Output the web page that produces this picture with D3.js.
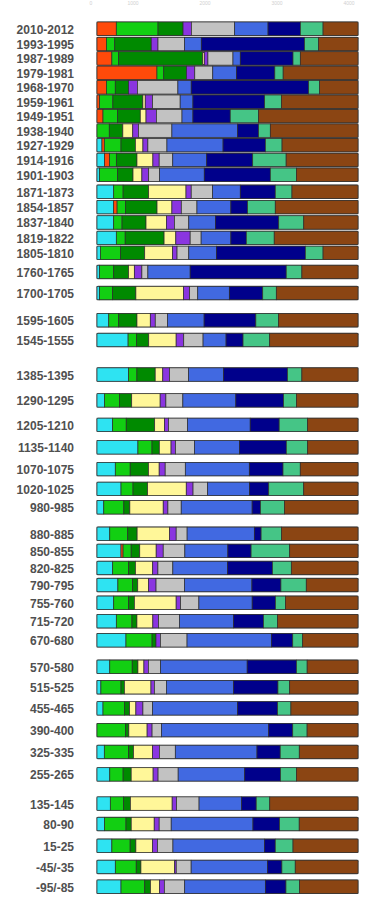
<!DOCTYPE html>
<html>
<head>
<meta charset="utf-8">
<script src="https://cdn.jsdelivr.net/npm/d3@7"></script>
<style>
  body { margin: 0; background: #fff; }
  svg { display: block; }
</style>
</head>
<body>
<div id="wrapper"></div>
<script>
// periods, top to bottom
const periods = ["2010-2012", "1993-1995", "1987-1989", "1979-1981", "1968-1970", "1959-1961",
  "1949-1951", "1938-1940", "1927-1929", "1914-1916", "1901-1903", "1871-1873", "1854-1857",
  "1837-1840", "1819-1822", "1805-1810", "1760-1765", "1700-1705", "1595-1605", "1545-1555",
  "1385-1395", "1290-1295", "1205-1210", "1135-1140", "1070-1075", "1020-1025", "980-985",
  "880-885", "850-855", "820-825", "790-795", "755-760", "715-720", "670-680", "570-580",
  "515-525", "455-465", "390-400", "325-335", "255-265", "135-145", "80-90", "15-25",
  "-45/-35", "-95/-85"]

// share of each band in every period (%)
const cyan = [0, 0, 0, 0, 0, 0, 0, 0, 1.9, 2.9, 1.0, 6.4, 6.4, 6.4, 7.4, 1.3, 1.0, 1.0, 4.5, 11.9, 12.1, 2.9, 6.0, 15.7, 7.0, 9.2, 2.6, 4.9, 9.2, 6.0, 8.0, 6.4, 7.4, 11.1, 4.9, 1.5, 2.3, 0, 2.8, 4.9, 5.1, 2.9, 5.7, 7.0, 9.2]
const red = [7.4, 3.6, 5.7, 23.0, 3.6, 1.0, 2.3, 0, 0.9, 1.9, 0, 0, 1.3, 0, 0, 0, 0, 0, 0, 0, 0, 0, 0, 0, 0, 0, 0, 0, 0.8, 0, 0, 0, 0, 0, 0, 0, 0, 0, 0, 0, 0, 0, 0, 0, 0]
const lime = [16.0, 3.2, 2.6, 2.6, 3.4, 5.1, 5.6, 4.7, 6.4, 2.6, 6.9, 3.6, 3.2, 3.2, 3.4, 7.7, 5.4, 5.0, 3.8, 3.2, 3.2, 5.7, 5.2, 5.4, 5.7, 4.6, 7.7, 6.9, 3.1, 6.1, 5.6, 5.7, 6.0, 10.0, 8.6, 7.7, 8.2, 10.9, 9.3, 5.1, 5.1, 8.2, 7.0, 8.0, 9.1]
const green = [9.6, 14.0, 32.2, 8.7, 5.1, 11.5, 8.7, 5.2, 5.5, 7.9, 5.9, 9.8, 12.1, 9.2, 14.9, 9.3, 5.7, 8.9, 7.0, 4.7, 7.0, 4.7, 10.9, 2.8, 7.0, 5.6, 2.3, 3.6, 3.3, 2.6, 2.0, 2.2, 1.9, 1.5, 2.2, 1.3, 2.0, 1.3, 1.9, 3.1, 2.6, 2.0, 2.2, 1.8, 2.2]
const yellow = [0, 0, 0.6, 0, 0, 0.9, 2.2, 3.8, 2.9, 6.1, 3.4, 14.3, 5.7, 7.8, 4.5, 10.7, 2.2, 18.3, 5.1, 10.5, 2.9, 10.9, 3.8, 4.5, 4.1, 14.8, 12.8, 12.4, 6.3, 6.6, 4.1, 16.0, 6.1, 0, 2.3, 10.2, 2.4, 7.0, 7.3, 8.4, 16.0, 8.8, 6.4, 12.9, 3.4]
const purple = [3.2, 2.6, 1.4, 3.2, 3.4, 2.8, 4.0, 2.2, 1.9, 2.4, 2.6, 2.0, 3.6, 3.1, 5.5, 1.7, 2.9, 2.3, 1.9, 2.9, 2.6, 2.2, 1.5, 1.7, 2.3, 2.6, 1.8, 2.6, 2.7, 2.0, 2.9, 1.7, 2.2, 1.7, 1.7, 1.3, 2.7, 1.9, 2.6, 1.9, 1.7, 1.9, 1.9, 0.6, 1.9]
const gray = [16.6, 10.2, 9.6, 6.9, 15.5, 10.6, 9.8, 12.8, 7.3, 5.2, 4.2, 8.2, 6.0, 5.5, 4.2, 4.5, 2.3, 3.1, 4.7, 7.4, 7.3, 6.5, 7.3, 7.3, 7.7, 5.6, 5.1, 4.2, 8.3, 5.7, 10.9, 7.0, 8.0, 10.2, 4.7, 4.6, 3.7, 3.6, 6.1, 7.7, 8.6, 4.6, 5.9, 5.7, 7.8]
const blue = [12.8, 6.4, 2.8, 9.1, 5.1, 4.9, 4.2, 25.2, 21.5, 13.0, 17.1, 10.6, 13.0, 10.2, 11.4, 10.6, 16.2, 12.1, 14.0, 8.8, 13.4, 20.3, 24.0, 17.2, 24.5, 16.0, 27.2, 25.8, 16.5, 20.9, 25.8, 20.4, 20.7, 32.3, 33.2, 25.8, 32.6, 41.1, 31.3, 25.5, 16.3, 31.3, 35.1, 29.2, 30.9]
const navy = [12.4, 39.6, 20.2, 14.7, 45.0, 27.5, 14.3, 8.0, 16.2, 17.6, 25.3, 13.4, 6.4, 24.3, 5.9, 34.1, 36.8, 12.8, 19.8, 6.5, 24.5, 18.3, 11.1, 18.0, 12.9, 7.4, 3.2, 2.6, 8.9, 17.2, 11.1, 8.9, 11.5, 8.2, 18.9, 17.0, 15.3, 9.2, 8.9, 13.7, 5.6, 10.2, 4.1, 5.5, 7.9]
const seagreen = [8.7, 5.4, 2.8, 3.2, 4.2, 6.4, 10.9, 4.5, 6.4, 12.8, 10.0, 6.4, 10.6, 9.6, 10.7, 6.8, 6.0, 5.2, 8.7, 10.2, 5.5, 4.9, 10.9, 8.2, 6.6, 13.4, 9.2, 7.8, 14.8, 7.2, 9.7, 3.8, 5.4, 3.8, 4.1, 4.5, 5.1, 5.5, 7.3, 6.1, 5.2, 7.5, 6.8, 5.1, 5.2]
const brown = [13.4, 15.1, 22.1, 28.7, 14.7, 29.4, 38.1, 33.6, 29.1, 27.5, 23.6, 25.3, 31.7, 20.8, 32.1, 13.4, 21.5, 31.3, 30.4, 33.8, 21.5, 23.6, 19.3, 19.3, 22.1, 20.8, 28.2, 29.4, 26.2, 25.5, 19.8, 27.8, 30.8, 21.2, 19.5, 26.2, 25.7, 19.5, 22.5, 23.6, 33.8, 22.5, 24.9, 24.0, 22.4]

const series = { cyan, red, lime, green, yellow, purple, gray, blue, navy, seagreen, brown }
const keys = Object.keys(series)
const colors = ["#2ee3f2", "#ff4a0a", "#12cf12", "#008a00", "#fff799", "#8a35e0",
  "#c2c2c2", "#4169e1", "#00008b", "#45c586", "#8b4513"]

// faint labels of the top axis (only a sliver shows in the picture)
const topTicks = [0, 1000, 2000, 3000, 4000]

function drawChart() {
  const dms = {
    width: 374,
    height: 916,
    labelRight: 74,
    barLeft: 97,
    barRight: 358,
    top: 22,
    bottom: 880,
    barHeight: 13.4,
  }

  const rows = periods.map((p, i) => {
    const r = { period: p, year: parseInt(p) }
    keys.forEach(k => r[k] = series[k][i])
    return r
  })

  // rows sit closer or further apart depending on the years between them
  const rowStep = 14.385
  const gapScale = d3.scaleLinear().domain([10, 160]).range([0, 20.18]).clamp(true)
  const offsets = []
  rows.forEach((r, i) => {
    offsets.push(i === 0 ? 0 : offsets[i - 1] + rowStep + gapScale(rows[i - 1].year - r.year))
  })

  const yScale = d3.scaleLinear()
    .domain([0, d3.max(offsets)])
    .range([dms.top, dms.bottom])
  const yPos = i => yScale(offsets[i])

  const xScale = d3.scaleLinear()
    .domain([0, 1])
    .range([dms.barLeft, dms.barRight])

  const colorScale = d3.scaleOrdinal().domain(keys).range(colors)

  const stacked = d3.stack()
    .keys(keys)
    .offset(d3.stackOffsetExpand)(rows)

  const svg = d3.select("#wrapper")
    .append("svg")
    .attr("width", dms.width)
    .attr("height", dms.height)

  // top axis labels, tiny and pale
  const axisScale = d3.scaleLinear().domain([1000, 4000]).range([133, 349])
  svg.append("g")
    .selectAll("text")
    .data(topTicks)
    .join("text")
    .attr("x", d => d === 0 ? 91 : axisScale(d))
    .attr("y", 4.5)
    .attr("text-anchor", "middle")
    .attr("font-family", "Liberation Sans, Arial, sans-serif")
    .attr("font-size", 5)
    .attr("fill", "#d0d0d0")
    .text(d => d)

  // bar outlines
  svg.append("g")
    .selectAll("rect")
    .data(rows)
    .join("rect")
    .attr("x", dms.barLeft - 0.5)
    .attr("y", (d, i) => yPos(i) - 0.5)
    .attr("width", dms.barRight - dms.barLeft + 1)
    .attr("height", dms.barHeight + 1)
    .attr("rx", 1.5)
    .attr("fill", "#555")

  const layers = svg.append("g")
    .selectAll("g")
    .data(stacked)
    .join("g")
    .attr("fill", d => colorScale(d.key))

  layers.selectAll("rect")
    .data(d => d.map((v, i) => ({ v, i })).filter(e => e.v[1] - e.v[0] > 0))
    .join("rect")
    .attr("x", e => xScale(e.v[0]))
    .attr("y", e => yPos(e.i))
    .attr("width", e => xScale(e.v[1]) - xScale(e.v[0]))
    .attr("height", dms.barHeight)
    .attr("stroke", "#2f2f2f")
    .attr("stroke-width", 0.7)

  // period labels
  svg.append("g")
    .selectAll("text")
    .data(rows)
    .join("text")
    .attr("x", dms.labelRight)
    .attr("y", (d, i) => yPos(i) + dms.barHeight / 2 + 1)
    .attr("dominant-baseline", "central")
    .attr("text-anchor", "end")
    .attr("font-family", "Liberation Sans, Arial, sans-serif")
    .attr("font-size", 12)
    .attr("font-weight", "bold")
    .attr("fill", "#505050")
    .text(d => d.period)
}

drawChart()
</script>
</body>
</html>
